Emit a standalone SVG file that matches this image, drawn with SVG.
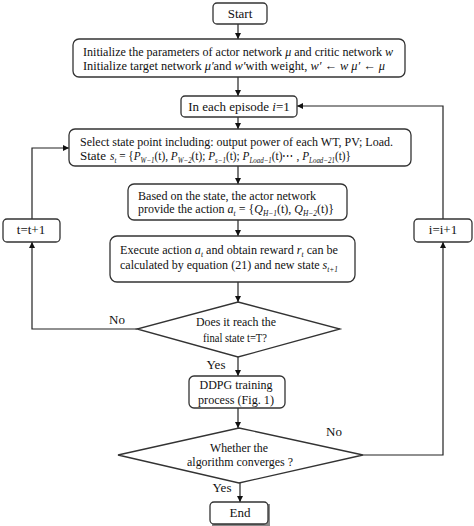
<svg xmlns="http://www.w3.org/2000/svg" width="474" height="526" viewBox="0 0 474 526">
<style>
.box{fill:#fff;stroke:#333;stroke-width:1.3}
.ln{fill:none;stroke:#222;stroke-width:1.2}
text{font-family:"Liberation Serif","Times New Roman",serif;font-size:13px;fill:#111}
.c{text-anchor:middle}
.i{font-style:italic}
.s{font-size:8px;font-style:italic}
</style>
<defs>
<marker id="ah" viewBox="0 0 10 10" refX="10" refY="5" markerWidth="6" markerHeight="6" orient="auto" markerUnits="userSpaceOnUse">
<path d="M0,0 L10,5 L0,10 z" fill="#111"/>
</marker>
</defs>
<rect width="474" height="526" fill="#fff"/>
<g id="connectors">
<line class="ln" x1="238" y1="24" x2="238" y2="39" marker-end="url(#ah)"/>
<line class="ln" x1="238" y1="77" x2="238" y2="96" marker-end="url(#ah)"/>
<line class="ln" x1="238" y1="117" x2="238" y2="129" marker-end="url(#ah)"/>
<line class="ln" x1="238" y1="166" x2="238" y2="184" marker-end="url(#ah)"/>
<line class="ln" x1="238" y1="220" x2="238" y2="236" marker-end="url(#ah)"/>
<line class="ln" x1="238" y1="282" x2="238" y2="302" marker-end="url(#ah)"/>
<line class="ln" x1="238" y1="357" x2="238" y2="376" marker-end="url(#ah)"/>
<line class="ln" x1="238" y1="408" x2="238" y2="428" marker-end="url(#ah)"/>
<line class="ln" x1="240" y1="483" x2="240" y2="502" marker-end="url(#ah)"/>
<polyline class="ln" points="137,329 32,329 32,242" marker-end="url(#ah)"/>
<polyline class="ln" points="32,219 32,148 69,148" marker-end="url(#ah)"/>
<polyline class="ln" points="363,455 443,455 443,242" marker-end="url(#ah)"/>
<polyline class="ln" points="443,219 443,106 297,106" marker-end="url(#ah)"/>
<text x="117" y="324" class="c">No</text>
<text x="334" y="436" class="c">No</text>
<text x="216" y="369" class="c">Yes</text>
<text x="222" y="492" class="c">Yes</text>
</g>
<g id="start">
<rect class="box" x="213" y="3" width="54" height="21" rx="4"/>
<text x="240" y="18" class="c">Start</text>
</g>
<g id="init">
<rect class="box" x="73" y="39" width="332" height="38" rx="6"/>
<text x="83" y="56" textLength="310" lengthAdjust="spacingAndGlyphs">Initialize the parameters of actor network <tspan class="i">μ</tspan> and critic network <tspan class="i">w</tspan></text>
<text x="83" y="70" textLength="302" lengthAdjust="spacingAndGlyphs">Initialize target network <tspan class="i">μ′</tspan>and <tspan class="i">w′</tspan>with weight,  <tspan class="i">w′</tspan> ← <tspan class="i">w</tspan>   <tspan class="i">μ′</tspan> ← <tspan class="i">μ</tspan></text>
</g>
<g id="episode">
<rect class="box" x="181" y="96" width="116" height="21" rx="4"/>
<text x="239" y="111" class="c">In each episode <tspan class="i">i</tspan>=1</text>
</g>
<g id="select">
<rect class="box" x="69" y="129" width="342" height="37" rx="6"/>
<text x="80" y="146" textLength="313" lengthAdjust="spacingAndGlyphs">Select state point including: output power of each WT, PV; Load.</text>
<text x="80" y="160">State</text>
<text x="110" y="160" textLength="241" lengthAdjust="spacingAndGlyphs"><tspan class="i">s</tspan><tspan class="s" dy="3">t</tspan><tspan dy="-3"> = {</tspan><tspan class="i">P</tspan><tspan class="s" dy="3">W−1</tspan><tspan dy="-3">(t), </tspan><tspan class="i">P</tspan><tspan class="s" dy="3">W−2</tspan><tspan dy="-3">(t); </tspan><tspan class="i">P</tspan><tspan class="s" dy="3">s−1</tspan><tspan dy="-3">(t); </tspan><tspan class="i">P</tspan><tspan class="s" dy="3">Load−1</tspan><tspan dy="-3">(t)⋯ , </tspan><tspan class="i">P</tspan><tspan class="s" dy="3">Load−21</tspan><tspan dy="-3">(t)}</tspan></text>
</g>
<g id="actor">
<rect class="box" x="128" y="184" width="219" height="36" rx="6"/>
<text x="138" y="200" textLength="178" lengthAdjust="spacingAndGlyphs">Based on the state, the actor network</text>
<text x="138" y="213" textLength="196" lengthAdjust="spacingAndGlyphs">provide the action <tspan class="i">a</tspan><tspan class="s" dy="3">t</tspan><tspan dy="-3"> = {</tspan><tspan class="i">Q</tspan><tspan class="s" dy="3">H−1</tspan><tspan dy="-3">(t), </tspan><tspan class="i">Q</tspan><tspan class="s" dy="3">H−2</tspan><tspan dy="-3">(t)}</tspan></text>
</g>
<g id="execute">
<rect class="box" x="110" y="236" width="245" height="46" rx="7"/>
<text x="120" y="254" textLength="218" lengthAdjust="spacingAndGlyphs">Execute action <tspan class="i">a</tspan><tspan class="s" dy="3">t</tspan><tspan dy="-3"> and obtain reward  </tspan><tspan class="i">r</tspan><tspan class="s" dy="3">t</tspan><tspan dy="-3"> can be</tspan></text>
<text x="120" y="269" textLength="218" lengthAdjust="spacingAndGlyphs">calculated by equation (21) and new state <tspan class="i">s</tspan><tspan class="s" dy="3">t+1</tspan></text>
</g>
<g id="tinc">
<rect class="box" x="3" y="219" width="57" height="23" rx="4"/>
<text x="31" y="234" class="c">t=t+1</text>
</g>
<g id="iinc">
<rect class="box" x="414" y="219" width="58" height="23" rx="4"/>
<text x="443" y="234" class="c">i=i+1</text>
</g>
<g id="final">
<polygon class="box" points="238,302 340,329 238,357 137,329"/>
<text x="236" y="326" class="c" textLength="80" lengthAdjust="spacingAndGlyphs">Does it reach the</text>
<text x="235" y="342" class="c" textLength="64" lengthAdjust="spacingAndGlyphs">final state t=T?</text>
</g>
<g id="ddpg">
<rect class="box" x="189" y="376" width="96" height="32" rx="5"/>
<text x="236" y="389" class="c" textLength="73" lengthAdjust="spacingAndGlyphs">DDPG training</text>
<text x="236" y="404" class="c" textLength="76" lengthAdjust="spacingAndGlyphs">process (Fig. 1)</text>
</g>
<g id="converge">
<polygon class="box" points="239,428 363,455 239,483 118,455"/>
<text x="239" y="452" class="c" textLength="58" lengthAdjust="spacingAndGlyphs">Whether the</text>
<text x="240" y="466" class="c" textLength="106" lengthAdjust="spacingAndGlyphs">algorithm converges ?</text>
</g>
<g id="end">
<rect x="212" y="504" width="58" height="22" fill="#888"/>
<rect class="box" x="210" y="502" width="58" height="22" rx="4"/>
<text x="240" y="517" class="c">End</text>
</g>
</svg>
